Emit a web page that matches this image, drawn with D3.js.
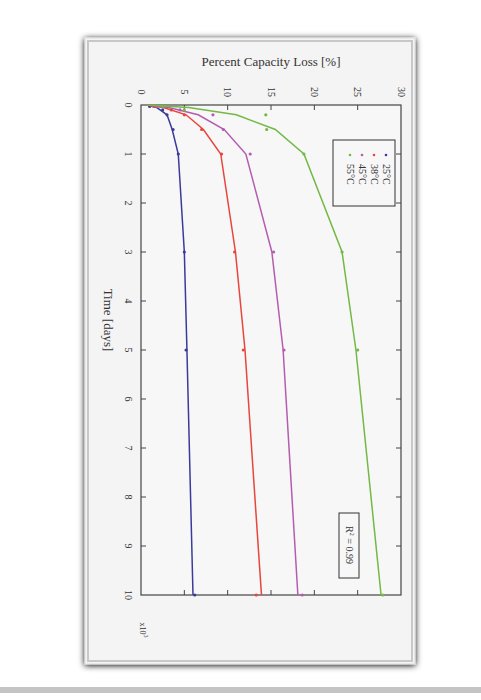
<!DOCTYPE html>
<html><head><meta charset="utf-8">
<script src="https://cdn.jsdelivr.net/npm/d3@7"></script>
<style>body{margin:0;background:#fff}</style></head>
<body><div class="graph"></div>
<script>
// time in 10^3 days, loss in percent
const times = [0, 0.05, 0.2, 0.5, 1, 3, 5, 10];
const series = ["25°C", "38°C", "45°C", "55°C"];
const colors = ["#3a3a9a", "#e8453c", "#b45cb0", "#74b845"];
const fitValues = [
  [0.6, 1.8, 3.0, 3.6, 4.3, 5.0, 5.3, 6.0],
  [0.6, 2.6, 5.2, 7.2, 9.2, 10.9, 12.0, 13.9],
  [0.6, 3.2, 6.6, 9.6, 12.1, 15.1, 16.4, 18.1],
  [0.6, 5.5, 11.0, 15.5, 18.8, 23.2, 24.8, 27.7]
];
const pointTimes = [0.03, 0.1, 0.2, 0.5, 1, 3, 5, 10];
const pointValues = [
  [1.0, 2.5, 3.0, 3.7, 4.3, 5.0, 5.2, 6.2],
  [1.5, 3.5, 5.0, 7.0, 9.3, 10.8, 11.8, 13.3],
  [1.8, 4.5, 8.3, 9.5, 12.6, 15.3, 16.5, 18.6],
  [2.5, 5.0, 14.4, 14.5, 18.8, 23.2, 25.0, 27.9]
];
const lossTicks = [0, 5, 10, 15, 20, 25, 30];
const timeTicks = [0, 1, 2, 3, 4, 5, 6, 7, 8, 9, 10];

const svg = d3.select(".graph").append("svg").attr("width", 481).attr("height", 700)
  .style("font-family", "Liberation Serif, serif");

// card with soft shadow
const defs = svg.append("defs");
const f = defs.append("filter").attr("id", "sh").attr("x", "-10%").attr("y", "-10%").attr("width", "120%").attr("height", "120%");
f.append("feGaussianBlur").attr("in", "SourceAlpha").attr("stdDeviation", 3);
f.append("feOffset").attr("dx", 0).attr("dy", 1).attr("result", "b");
const m = f.append("feMerge"); m.append("feMergeNode").attr("in", "b"); m.append("feMergeNode").attr("in", "SourceGraphic");
svg.append("rect").attr("x", 85).attr("y", 38).attr("width", 330).attr("height", 626)
  .attr("fill", "#f4f4f4").attr("stroke", "#ddd").attr("filter", "url(#sh)");
svg.append("rect").attr("x", 88).attr("y", 41).attr("width", 324).attr("height", 620)
  .attr("fill", "none").attr("stroke", "#c8c8c8").attr("stroke-width", 2);
svg.append("rect").attr("x", 0).attr("y", 687).attr("width", 481).attr("height", 6).attr("fill", "#c4c4c4");

const x = d3.scaleLinear().domain([0, 30]).range([141, 401]);
const y = d3.scaleLinear().domain([0, 10]).range([105, 595]);

const g = svg.append("g");
g.append("rect").attr("x", x(0)).attr("y", y(0)).attr("width", x(30) - x(0)).attr("height", y(10) - y(0))
  .attr("fill", "#f7f7f7").attr("stroke", "#444").attr("stroke-width", 1.2);

// ticks
lossTicks.slice(1, -1).forEach(v => {
  g.append("line").attr("x1", x(v)).attr("x2", x(v)).attr("y1", y(0)).attr("y2", y(0) + 5).attr("stroke", "#444");
  g.append("line").attr("x1", x(v)).attr("x2", x(v)).attr("y1", y(10)).attr("y2", y(10) - 5).attr("stroke", "#444");
});
timeTicks.slice(1, -1).forEach(v => {
  g.append("line").attr("y1", y(v)).attr("y2", y(v)).attr("x1", x(0)).attr("x2", x(0) + 5).attr("stroke", "#444");
  g.append("line").attr("y1", y(v)).attr("y2", y(v)).attr("x1", x(30)).attr("x2", x(30) - 5).attr("stroke", "#444");
});
lossTicks.forEach(v => {
  g.append("text").attr("transform", `translate(${x(v)},92) rotate(90)`).attr("text-anchor", "middle")
    .attr("dy", "0.35em").attr("font-size", 10).attr("fill", "#333").text(v);
});
timeTicks.forEach(v => {
  g.append("text").attr("transform", `translate(128,${y(v)}) rotate(90)`).attr("text-anchor", "middle")
    .attr("dy", "0.35em").attr("font-size", 10).attr("fill", "#333").text(v);
});
g.append("text").attr("transform", "translate(140,630) rotate(90)").attr("font-size", 8).attr("fill", "#333")
  .attr("text-anchor", "middle").html('x10<tspan dy="-4" font-size="6">3</tspan>');
g.append("text").attr("x", 271).attr("y", 66).attr("text-anchor", "middle").attr("font-size", 13)
  .attr("fill", "#333").text("Percent Capacity Loss [%]");
g.append("text").attr("transform", "translate(104,320) rotate(90)").attr("text-anchor", "middle")
  .attr("font-size", 13).attr("fill", "#333").text("Time [days]");

// fits and points
const line = d3.line().x(d => x(d[1])).y(d => y(d[0]));
series.forEach((s, i) => {
  g.append("path").datum(times.map((t, j) => [t, fitValues[i][j]])).attr("d", line)
    .attr("fill", "none").attr("stroke", colors[i]).attr("stroke-width", 1.5);
  g.selectAll(null).data(pointTimes.map((t, j) => [t, pointValues[i][j]])).enter().append("circle")
    .attr("cx", d => x(d[1])).attr("cy", d => y(d[0])).attr("r", 1.6).attr("fill", colors[i]);
});

// legend
g.append("rect").attr("x", 333).attr("y", 140).attr("width", 62).attr("height", 66)
  .attr("fill", "#f7f7f7").attr("stroke", "#333");
series.slice().reverse().forEach((s, k) => {
  const i = series.length - 1 - k;
  const cx = 386 - i * 12;
  g.append("circle").attr("cx", cx).attr("cy", 155).attr("r", 1.3).attr("fill", colors[i]);
  g.append("text").attr("transform", `translate(${cx},164) rotate(90)`).attr("dy", "0.35em")
    .attr("font-size", 10).attr("fill", "#333").text(s);
});
g.append("rect").attr("x", 339).attr("y", 513).attr("width", 20).attr("height", 65)
  .attr("fill", "#f7f7f7").attr("stroke", "#333");
g.append("text").attr("transform", "translate(349,545) rotate(90)").attr("text-anchor", "middle")
  .attr("dy", "0.35em").attr("font-size", 10).attr("fill", "#333")
  .html('R<tspan dy="-4" font-size="6">2</tspan><tspan dy="4"> = 0.99</tspan>');
</script></body></html>
